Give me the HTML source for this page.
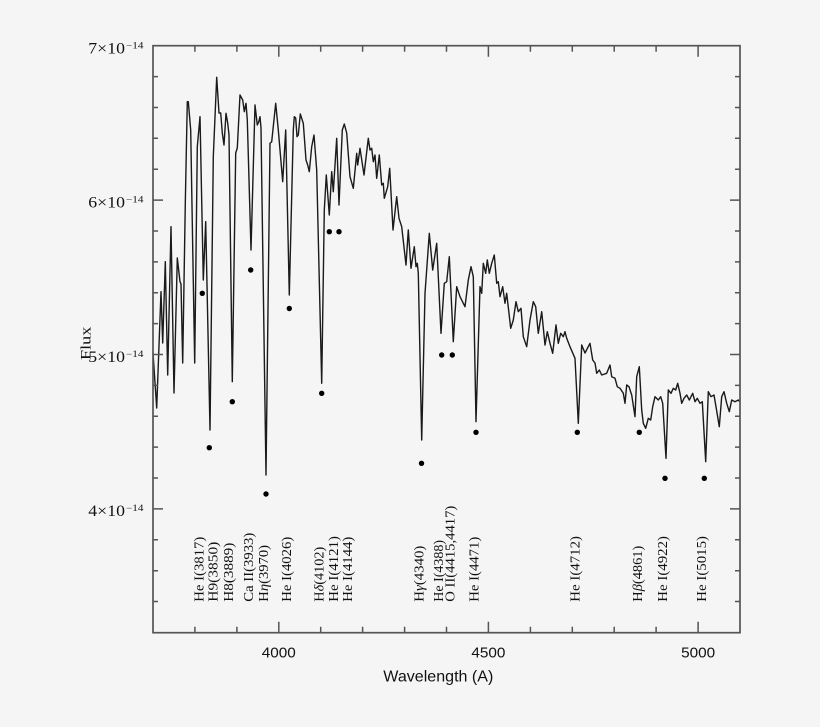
<!DOCTYPE html>
<html><head><meta charset="utf-8"><style>
html,body{margin:0;padding:0;background:#f5f5f5;}
svg{display:block;}
</style></head><body>
<svg width="820" height="727" viewBox="0 0 820 727" xmlns="http://www.w3.org/2000/svg">
<rect x="0" y="0" width="820" height="727" fill="#f5f5f5"/>
<defs><clipPath id="pc"><rect x="153" y="45.7" width="587" height="587"/></clipPath></defs>

<!-- spectrum -->
<polyline clip-path="url(#pc)" fill="none" stroke="#1a1a1a" stroke-width="1.4" stroke-linejoin="round" points="
152,338 156.7,408 161,291.7 162.7,343 165.3,261.7 167.7,375 171,226.7 174,393 177.3,258 180,281.7 181,284 182.7,363 185.3,203 187.3,101.7 188.3,101.7 190.7,130 194.7,363 197.3,146.7 200,116.7 203.3,280 205.7,221.7 210,430 213.3,156.7 216.7,77.3 219,113 220.7,113 222.3,133 224,145 226,113.3 227.7,123 229,135 232.3,381.7 235.7,153 237.3,148 240,95 242.7,100 244.3,111.7 246,103.3 247.3,120 251,250 255,105 257.3,125 258.7,122 260,116.7 261,128 266,475 270,143.3 271.7,141.7 275.7,103.3 278.3,130 282.7,181.7 285.7,130 289.3,295 293.3,130 294.3,116.7 295.7,118 297,136.7 298.3,135 300.3,114 303.3,123.3 306,160 307.7,165 309.3,171.7 311.7,146.7 314,135 316.7,170 321.7,383.3 324.3,210 326.3,175 329.3,215 331.7,171.7 333.3,191.7 336.7,138.3 339,205 342.3,130 344.3,124 346.7,133 350,176.7 353.3,188.3 356.7,153.3 357.7,165 360,148.3 364,175 368.3,138.3 370,150 371.7,148.3 373.3,161.7 375,155 376.7,178.3 379.3,155 381.7,185 383.3,183.3 384.3,198.3 387.7,186.7 389.7,168.3 393,230 396.7,196.7 399,218.3 401.7,226.7 406,265 408.3,230 411,268.3 414.3,246.7 416,266.7 417.3,263.3 418.3,273.3 421.7,440 425,293.3 429.3,233.3 432.7,270 436.7,243.3 441,333.3 444.3,283.3 446.7,281.7 449.3,256.7 453.3,341.7 456.7,286.7 460,296.7 465,306.7 468.3,280 471,266.7 473.3,276.7 476,421.7 480,286.7 481.7,293.3 483.3,263.3 485.7,273.3 487.3,260 489.3,273.3 491.7,263.3 494.3,255 496.7,283.3 498.3,281.7 500,296.7 502.7,286.7 505,303.3 506.7,293.3 510.7,328.3 513.3,320 516,301.7 518.3,311.7 521,308.3 523.3,336.7 526.7,346.7 530,320 533.3,301.7 535.7,306.7 538.3,333.3 541.7,311.7 545,345 547.3,331.7 550,343.3 552.7,353.3 556,325 558.3,343.3 560.7,333.3 563.3,336.7 565,331.7 566.7,338.3 570,346.7 575,358.3 578.3,423.3 581.7,345 585,353 590,343.3 592.7,360 595,363 596.7,373.3 599.3,370 601.7,375 606.7,373.3 610,365 611.7,376.7 615,378.3 617.3,386.7 620,388.3 623.3,393.3 625,403.3 626.7,385 629,386.7 631.7,395 635,416.7 636.7,376.7 639.3,366.7 641.7,410 643.3,423.3 645.7,428.3 648.3,418.3 650.7,420 652.7,406.7 655,396.7 658.3,400 660.7,396.7 662.7,403.3 666,458.3 668.3,390 671,393.3 673.3,388.3 675.7,390 677.7,383.3 680,393.3 681.7,403.3 684,398.3 686.7,395 689.3,400 692.7,393.3 695,401.7 697.3,398.3 700,403.3 702.3,401.7 705.7,461.7 708.3,391.7 711,396.7 714,395 716,406.7 719.3,426.7 721.7,396.7 724,391.7 726.7,403.3 729.3,411.7 731.7,400 735,401.7 738.3,400 741,403.3"/>

<!-- frame -->
<rect x="153" y="45.7" width="587" height="587" fill="none" stroke="#555" stroke-width="1.7"/>

<!-- ticks -->
<path fill="none" stroke="#555" stroke-width="1.5" d="
M194.9,632.7V626.7 M236.9,632.7V626.7 M278.8,632.7V621.7 M320.7,632.7V626.7 M362.6,632.7V626.7 M404.6,632.7V626.7 M446.5,632.7V626.7 M488.4,632.7V621.7 M530.4,632.7V626.7 M572.3,632.7V626.7 M614.2,632.7V626.7 M656.1,632.7V626.7 M698.1,632.7V621.7
M194.9,45.7V51.7 M236.9,45.7V51.7 M278.8,45.7V56.7 M320.7,45.7V51.7 M362.6,45.7V51.7 M404.6,45.7V51.7 M446.5,45.7V51.7 M488.4,45.7V56.7 M530.4,45.7V51.7 M572.3,45.7V51.7 M614.2,45.7V51.7 M656.1,45.7V51.7 M698.1,45.7V56.7
M153,601.5H158 M153,570.7H158 M153,539.8H158 M153,508.9H163 M153,478H158 M153,447.1H158 M153,416.3H158 M153,385.4H158 M153,354.5H163 M153,323.6H158 M153,292.7H158 M153,261.9H158 M153,231H158 M153,200.1H163 M153,169.2H158 M153,138.3H158 M153,107.5H158 M153,76.6H158
M740,601.5H735 M740,570.7H735 M740,539.8H735 M740,508.9H730 M740,478H735 M740,447.1H735 M740,416.3H735 M740,385.4H735 M740,354.5H730 M740,323.6H735 M740,292.7H735 M740,261.9H735 M740,231H735 M740,200.1H730 M740,169.2H735 M740,138.3H735 M740,107.5H735 M740,76.6H735
"/>

<!-- dots -->
<g fill="#000">
<circle cx="202.3" cy="293.3" r="2.7"/>
<circle cx="209.3" cy="447.7" r="2.7"/>
<circle cx="232.3" cy="401.7" r="2.7"/>
<circle cx="250.7" cy="270" r="2.7"/>
<circle cx="266" cy="494" r="2.7"/>
<circle cx="289.3" cy="308.5" r="2.7"/>
<circle cx="321.7" cy="393.3" r="2.7"/>
<circle cx="329.3" cy="231.7" r="2.7"/>
<circle cx="339" cy="231.7" r="2.7"/>
<circle cx="421.5" cy="463.3" r="2.7"/>
<circle cx="441.7" cy="355" r="2.7"/>
<circle cx="452.3" cy="355" r="2.7"/>
<circle cx="476" cy="432.3" r="2.7"/>
<circle cx="577.3" cy="432.3" r="2.7"/>
<circle cx="639.3" cy="432.3" r="2.7"/>
<circle cx="665" cy="478.3" r="2.7"/>
<circle cx="704.3" cy="478.3" r="2.7"/>
</g>

<!-- line labels -->
<g font-family="'Liberation Serif', serif" font-size="14" fill="#111" xml:space="preserve">
<text transform="translate(203.5,601.7) rotate(-90)" textLength="65" lengthAdjust="spacingAndGlyphs">He  I(3817)</text>
<text transform="translate(217.5,601.7) rotate(-90)" textLength="60" lengthAdjust="spacingAndGlyphs">H9(3850)</text>
<text transform="translate(232.8,601.7) rotate(-90)" textLength="59" lengthAdjust="spacingAndGlyphs">H8(3889)</text>
<text transform="translate(252.8,601.7) rotate(-90)" textLength="69" lengthAdjust="spacingAndGlyphs">Ca  II(3933)</text>
<text transform="translate(267.8,601.7) rotate(-90)" textLength="56.7" lengthAdjust="spacingAndGlyphs">H<tspan font-style="italic">η</tspan>(3970)</text>
<text transform="translate(291.2,601.7) rotate(-90)" textLength="65" lengthAdjust="spacingAndGlyphs">He  I(4026)</text>
<text transform="translate(323.5,601.7) rotate(-90)" textLength="55" lengthAdjust="spacingAndGlyphs">H<tspan font-style="italic">δ</tspan>(4102)</text>
<text transform="translate(337.8,601.7) rotate(-90)" textLength="65.7" lengthAdjust="spacingAndGlyphs">He  I(4121)</text>
<text transform="translate(351.8,601.7) rotate(-90)" textLength="65" lengthAdjust="spacingAndGlyphs">He  I(4144)</text>
<text transform="translate(423.5,601.7) rotate(-90)" textLength="56" lengthAdjust="spacingAndGlyphs">H<tspan font-style="italic">γ</tspan>(4340)</text>
<text transform="translate(442.8,601.7) rotate(-90)" textLength="61.7" lengthAdjust="spacingAndGlyphs">He  I(4388)</text>
<text transform="translate(454.5,601.7) rotate(-90)" textLength="96" lengthAdjust="spacingAndGlyphs">O  II(4415,4417)</text>
<text transform="translate(478.5,601.7) rotate(-90)" textLength="65" lengthAdjust="spacingAndGlyphs">He  I(4471)</text>
<text transform="translate(579.5,601.7) rotate(-90)" textLength="65.7" lengthAdjust="spacingAndGlyphs">He  I(4712)</text>
<text transform="translate(641.8,601.7) rotate(-90)" textLength="56" lengthAdjust="spacingAndGlyphs">H<tspan font-style="italic">β</tspan>(4861)</text>
<text transform="translate(666.8,601.7) rotate(-90)" textLength="65.7" lengthAdjust="spacingAndGlyphs">He  I(4922)</text>
<text transform="translate(706.2,601.7) rotate(-90)" textLength="65.7" lengthAdjust="spacingAndGlyphs">He  I(5015)</text>
</g>

<!-- y tick labels -->
<g font-family="'Liberation Serif', serif" fill="#111">
<text x="88.3" y="53.3" font-size="16" textLength="36.7" lengthAdjust="spacingAndGlyphs">7×10</text>
<text x="126" y="48.3" font-size="9" textLength="17.5" lengthAdjust="spacingAndGlyphs">−14</text>
<text x="88.3" y="207.7" font-size="16" textLength="36.7" lengthAdjust="spacingAndGlyphs">6×10</text>
<text x="126" y="202.7" font-size="9" textLength="17.5" lengthAdjust="spacingAndGlyphs">−14</text>
<text x="88.3" y="362.1" font-size="16" textLength="36.7" lengthAdjust="spacingAndGlyphs">5×10</text>
<text x="126" y="357.1" font-size="9" textLength="17.5" lengthAdjust="spacingAndGlyphs">−14</text>
<text x="88.3" y="516.2" font-size="16" textLength="36.7" lengthAdjust="spacingAndGlyphs">4×10</text>
<text x="126" y="511.2" font-size="9" textLength="17.5" lengthAdjust="spacingAndGlyphs">−14</text>
<text transform="translate(90.7,360) rotate(-90)" font-size="15" textLength="33.3" lengthAdjust="spacingAndGlyphs">Flux</text>
</g>

<!-- x tick labels and title -->
<g font-family="'Liberation Sans', sans-serif" fill="#111" text-anchor="middle">
<text x="278.8" y="657.7" font-size="15" textLength="34" lengthAdjust="spacingAndGlyphs">4000</text>
<text x="488.4" y="657.7" font-size="15" textLength="34" lengthAdjust="spacingAndGlyphs">4500</text>
<text x="698.1" y="657.7" font-size="15" textLength="34" lengthAdjust="spacingAndGlyphs">5000</text>
<text x="438.3" y="681.7" font-size="16" textLength="110" lengthAdjust="spacingAndGlyphs">Wavelength (A)</text>
</g>
</svg>
</body></html>
